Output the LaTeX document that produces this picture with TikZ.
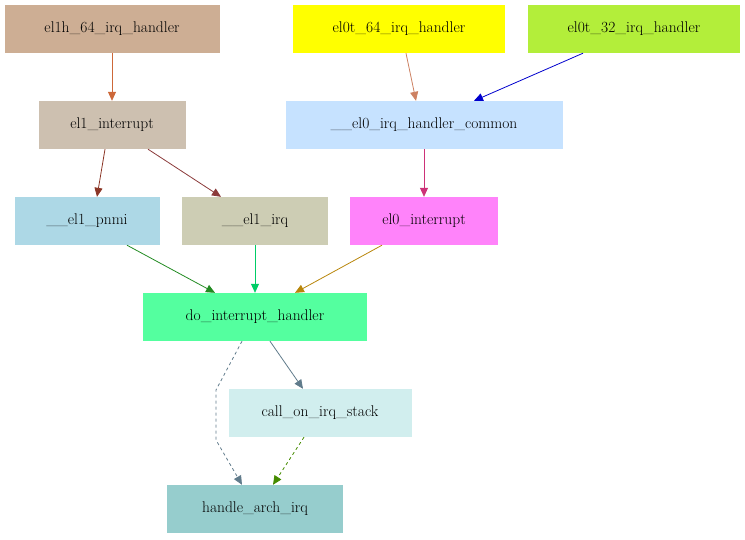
\documentclass[tikz,border=0pt]{standalone}
\usepackage{fontspec}
\usepackage{tikz}
\usetikzlibrary{arrows.meta}
\definecolor{cTan}{HTML}{CDAE94}
\definecolor{cYel}{HTML}{FFFF00}
\definecolor{cLime}{HTML}{B3EE3A}
\definecolor{cBisq}{HTML}{CDC0B0}
\definecolor{cSky}{HTML}{C6E2FF}
\definecolor{cBlue}{HTML}{ADD8E6}
\definecolor{cKhak}{HTML}{CDCDB4}
\definecolor{cOrch}{HTML}{FF83FA}
\definecolor{cSea}{HTML}{54FF9F}
\definecolor{cAzur}{HTML}{D1EEEE}
\definecolor{cCyan}{HTML}{96CDCD}
\tikzset{
    fn/.style={minimum height=48pt, inner sep=0pt, font=\fontsize{15.5}{18}\selectfont},
    ed/.style={-{Triangle[length=9pt,width=8pt]}, line width=0.8pt}
}

\begin{document}
\begin{tikzpicture}[x=1pt, y=-1pt]
        \useasboundingbox (0,0) rectangle (745,539);
        \node[fn, fill=cTan, minimum width=215pt] (EL1H) at (112,29) {el1h\_64\_irq\_handler};
        \node[fn, fill=cYel, minimum width=212pt] (EL0T64) at (399,29) {el0t\_64\_irq\_handler};
        \node[fn, fill=cLime, minimum width=212pt] (EL0T32) at (634,29) {el0t\_32\_irq\_handler};
        \node[fn, fill=cBisq, minimum width=147pt] (EL1INT) at (112,125) {el1\_interrupt};
        \node[fn, fill=cSky, minimum width=277pt] (EL0COMMON) at (424,125) {\_\_el0\_irq\_handler\_common};
        \node[fn, fill=cBlue, minimum width=145pt] (PNMI) at (87,221) {\_\_el1\_pnmi};
        \node[fn, fill=cKhak, minimum width=146pt] (EL1IRQ) at (255,221) {\_\_el1\_irq};
        \node[fn, fill=cOrch, minimum width=148pt] (EL0INT) at (424,221) {el0\_interrupt};
        \node[fn, fill=cSea, minimum width=224pt] (DOINT) at (255,317) {do\_interrupt\_handler};
        \node[fn, fill=cAzur, minimum width=183pt] (CALL) at (320,413) {call\_on\_irq\_stack};
        \node[fn, fill=cCyan, minimum width=176pt] (ARCH) at (255,509) {handle\_arch\_irq};
        \draw[ed, color={rgb,255:red,205;green,104;blue,57}] (EL1H) -- (EL1INT);
        \draw[ed, color={rgb,255:red,205;green,129;blue,98}] (EL0T64.south) ++(7,0) -- ([xshift=-8pt]EL0COMMON.north);
        \draw[ed, color={rgb,255:red,0;green,0;blue,205}] ([xshift=-51pt]EL0T32.south) -- ([xshift=50pt]EL0COMMON.north);
        \draw[ed, color={rgb,255:red,139;green,54;blue,38}] ([xshift=-7pt]EL1INT.south) -- ([xshift=10pt]PNMI.north);
        \draw[ed, color={rgb,255:red,139;green,58;blue,58}] ([xshift=36pt]EL1INT.south) -- ([xshift=-34pt]EL1IRQ.north);
        \draw[ed, color={rgb,255:red,205;green,50;blue,120}] (EL0COMMON) -- (EL0INT);
        \draw[ed, color={rgb,255:red,34;green,139;blue,34}] ([xshift=40pt]PNMI.south) -- ([xshift=-40pt]DOINT.north);
        \draw[ed, color={rgb,255:red,0;green,205;blue,102}] (EL1IRQ) -- (DOINT);
        \draw[ed, color={rgb,255:red,184;green,134;blue,11}] ([xshift=-42pt]EL0INT.south) -- ([xshift=40pt]DOINT.north);
        \draw[ed, color={rgb,255:red,96;green,123;blue,139}] ([xshift=15pt]DOINT.south) -- ([xshift=-17pt]CALL.north);
        \draw[ed, dashed, color={rgb,255:red,96;green,123;blue,139}] ([xshift=-13pt]DOINT.south) -- (216,390) -- (216,440) -- ([xshift=-13pt]ARCH.north);
        \draw[ed, dashed, color={rgb,255:red,69;green,139;blue,0}] ([xshift=-16pt]CALL.south) -- ([xshift=18pt]ARCH.north);
\end{tikzpicture}
\end{document}
